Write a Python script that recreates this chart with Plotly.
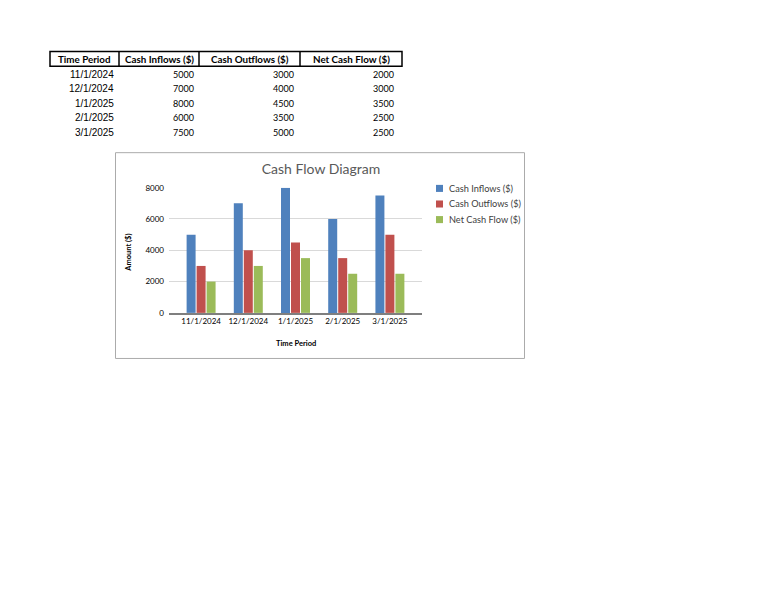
import plotly.graph_objects as go

# ---- data ----
periods = ["11/1/2024", "12/1/2024", "1/1/2025", "2/1/2025", "3/1/2025"]
inflows = [5000, 7000, 8000, 6000, 7500]
outflows = [3000, 4000, 4500, 3500, 5000]
net_flow = [2000, 3000, 3500, 2500, 2500]
headers = ["Time Period", "Cash Inflows ($)", "Cash Outflows ($)", "Net Cash Flow ($)"]
series_names = headers[1:]
y_ticks = [0, 2000, 4000, 6000, 8000]
chart_title = "Cash Flow Diagram"
x_title = "Time Period"
y_title = "Amount ($)"

colors = ["#4F81BD", "#C0504D", "#9BBB59"]

W, H = 768, 594
OX = 8            # horizontal page offset compensation
OY, SY = 13.7, 0.977  # vertical page offset / scale compensation


def fx(p):
    return (p - OX) / W


def fy(p):
    return 1 - ((p - OY) / SY) / H


fig = go.Figure()
for name, vals, c in zip(series_names, [inflows, outflows, net_flow], colors):
    fig.add_trace(go.Bar(x=periods, y=vals, name=name, marker_color=c,
                         marker_line_width=0, showlegend=False))

shapes = []
annotations = []

# ---- spreadsheet table ----
col_edges = [50, 119, 199, 300, 402]
hdr_top, hdr_bot = 52, 66.5
shapes.append(dict(type="rect", xref="paper", yref="paper",
                   x0=fx(col_edges[0]), x1=fx(col_edges[-1]),
                   y0=fy(hdr_bot), y1=fy(hdr_top),
                   line=dict(color="#000000", width=1.5)))
for e in col_edges[1:-1]:
    shapes.append(dict(type="line", xref="paper", yref="paper",
                       x0=fx(e), x1=fx(e), y0=fy(hdr_bot), y1=fy(hdr_top),
                       line=dict(color="#000000", width=1.5)))
for i, h in enumerate(headers):
    annotations.append(dict(text="<b>%s</b>" % h, xref="paper", yref="paper",
                            x=fx((col_edges[i] + col_edges[i + 1]) / 2),
                            y=fy((hdr_top + hdr_bot) / 2),
                            xanchor="center", yanchor="middle", showarrow=False,
                            font=dict(family="Lato", size=9.8, color="#000000")))

rows = list(zip(periods, inflows, outflows, net_flow))
right_edges = [116, 196, 296, 396]
for r, row in enumerate(rows):
    yy = 74.5 + 14.5 * r
    for c, v in enumerate(row):
        fam = "Liberation Sans" if c == 0 else "Lato"
        sz = 10 if c == 0 else 9
        annotations.append(dict(text=str(v), xref="paper", yref="paper",
                                x=fx(right_edges[c]), y=fy(yy),
                                xanchor="right", yanchor="middle", showarrow=False,
                                font=dict(family=fam, size=sz, color="#000000")))

# ---- chart frame ----
shapes.append(dict(type="rect", xref="paper", yref="paper", layer="below",
                   x0=fx(115.5), x1=fx(524.5), y0=fy(357), y1=fy(152.5),
                   line=dict(color="#ABABAB", width=1)))

annotations.append(dict(text="<b>%s</b>" % x_title, xref="paper", yref="paper",
                        x=fx(296), y=fy(342), xanchor="center", yanchor="middle",
                        showarrow=False,
                        font=dict(family="Lato", size=7.5, color="#000000")))
annotations.append(dict(text="<b>%s</b>" % y_title, xref="paper", yref="paper",
                        x=fx(129), y=fy(252), xanchor="center", yanchor="middle",
                        textangle=-90, showarrow=False,
                        font=dict(family="Lato", size=7.5, color="#000000")))

# ---- legend (Excel style: small squares) ----
for i, (name, c) in enumerate(zip(series_names, colors)):
    yc = 188 + 15.5 * i
    shapes.append(dict(type="rect", xref="paper", yref="paper",
                       x0=fx(436), x1=fx(443), y0=fy(yc + 3.5), y1=fy(yc - 3.5),
                       fillcolor=c, line=dict(width=0)))
    annotations.append(dict(text=name, xref="paper", yref="paper",
                            x=fx(447), y=fy(yc), xanchor="left", yanchor="middle",
                            showarrow=False,
                            font=dict(family="Lato", size=9.2, color="#404040")))

fig.update_layout(
    width=W, height=H,
    margin=dict(l=0, r=0, t=0, b=0),
    paper_bgcolor="#FFFFFF", plot_bgcolor="#FFFFFF",
    title=dict(text=chart_title, x=fx(321), y=fy(169), xanchor="center",
               yanchor="middle", xref="paper", yref="paper",
               font=dict(family="Lato", size=14, color="#595959")),
    barmode="group", bargap=0.365, bargroupgap=0.1,
    xaxis=dict(domain=[fx(169), fx(422)], type="category",
               range=[-0.68, 4.68], showgrid=False, ticks="",
               showline=True, linecolor="#7F7F7F", linewidth=1.5,
               tickfont=dict(family="Lato", size=8, color="#000000"),
               fixedrange=True),
    yaxis=dict(domain=[fy(311.7), fy(187.3)], range=[0, 8000],
               tickvals=y_ticks, showgrid=True, gridcolor="#D9D9D9",
               gridwidth=1, zeroline=False, showline=False, ticks="",
               ticklabelstandoff=4,
               tickfont=dict(family="Lato", size=8, color="#000000"),
               fixedrange=True),
    shapes=shapes,
    annotations=annotations,
    showlegend=False,
)

fig.write_html("out.html")
